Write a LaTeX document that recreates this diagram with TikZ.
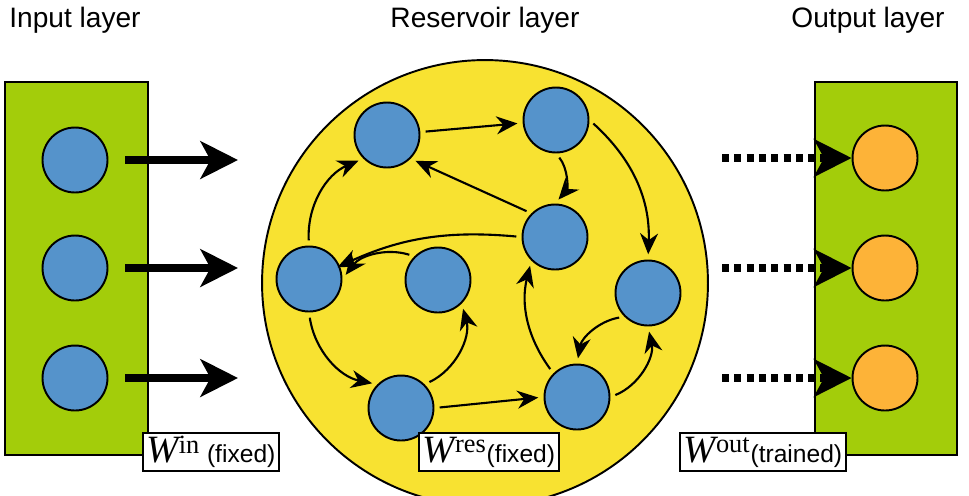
\documentclass[tikz,border=0pt]{standalone}
\usepackage{fontspec}
\setmainfont{Liberation Sans}
\newfontfamily\wfont{Liberation Serif}
\usetikzlibrary{arrows.meta}
\definecolor{layergreen}{HTML}{A3CD0A}
\definecolor{resyellow}{HTML}{F8E231}
\definecolor{neuronblue}{HTML}{5593CB}
\definecolor{neuronorange}{HTML}{FDB338}
\begin{document}
\begin{tikzpicture}[x=0.02cm,y=-0.02cm,
    neuron/.style={circle, draw, line width=1.1pt, minimum size=1.3cm, inner sep=0pt, fill=neuronblue},
    outneuron/.style={neuron, fill=neuronorange},
    layer/.style={draw, line width=1.1pt, fill=layergreen},
    link/.style={-{Stealth[length=0.42cm,width=0.36cm]}, line width=1.2pt, shorten >=3pt, shorten <=3pt},
    feed/.style={-{Stealth[length=0.75cm,width=0.75cm,inset=0.2cm]}, line width=4.5pt},
    readout/.style={feed, dash pattern=on 4pt off 3pt},
    title/.style={font=\fontsize{16}{18}\selectfont},
    wbox/.style={draw, line width=1.1pt, fill=white, inner sep=2pt, font=\fontsize{14}{16}\selectfont}
]
\useasboundingbox (0,0) rectangle (969,495);

% layers
\draw[layer] (5,82) rectangle (148,455);
\draw[layer] (815,82) rectangle (957,455);
\draw[line width=1.1pt, fill=resyellow] (485,283) circle[radius=4.46cm];

% titles
\node[title] (tin) at (75,20) {Input layer};
\node[title] (tres) at (485,20) {Reservoir layer};
\node[title] (tout) at (868,20) {Output layer};

% input neurons
\node[neuron] (i1) at (75,160) {};
\node[neuron] (i2) at (75,268) {};
\node[neuron] (i3) at (75,378) {};

% output neurons
\node[outneuron] (o1) at (885,158) {};
\node[outneuron] (o2) at (885,268) {};
\node[outneuron] (o3) at (885,378) {};

% reservoir neurons
\node[neuron] (a) at (387,135) {};
\node[neuron] (b) at (556,120) {};
\node[neuron] (c) at (555,237) {};
\node[neuron] (d) at (309,279) {};
\node[neuron] (e) at (438,280) {};
\node[neuron] (f) at (648,293) {};
\node[neuron] (g) at (401,408) {};
\node[neuron] (h) at (577,397) {};

% input and output weights
\coordinate (fi1) at (238,160);
\coordinate (fi2) at (238,268);
\coordinate (fi3) at (238,378);
\coordinate (ro1) at (722,158);
\coordinate (ro2) at (722,268);
\coordinate (ro3) at (722,378);
\draw[feed] (i1) ++(50,0) -- (fi1);
\draw[feed] (i2) ++(50,0) -- (fi2);
\draw[feed] (i3) ++(50,0) -- (fi3);
\draw[readout] (ro1) -- (o1);
\draw[readout] (ro2) -- (o2);
\draw[readout] (ro3) -- (o3);

% reservoir connections
\draw[link] (a) -- (b);
\draw[link] (b.south) to[bend left=40] (c.north);
\draw[link] (b.east) to[bend left=25] (f.north);
\draw[link] (c.north west) to (a.south east);
\draw[link] (c.west) to[bend right=15] ([yshift=-8pt]d.north east);
\draw[link] (e.north west) to[bend right=35] (d.east);
\draw[link] (d.north) to[bend left=35] (a.south west);
\draw[link] (d.south) to[bend right=35] (g.north west);
\draw[link] (g.north east) to[bend right=40] (e.south east);
\draw[link] (g.east) -- (h.west);
\draw[link] (h.north west) to[bend left=25] (c.south west);
\draw[link] (f.south west) to[bend right=35] (h.north);
\draw[link] (h.east) to[bend right=40] (f.south);

% weight labels
\node[wbox] (win) at (211,452) {{\wfont\fontsize{22}{24}\selectfont\itshape W}\textsuperscript{\wfont\fontsize{15}{16}\selectfont in} (fixed)};
\node[wbox] (wres) at (489,452) {{\wfont\fontsize{22}{24}\selectfont\itshape W}\textsuperscript{\wfont\fontsize{15}{16}\selectfont res}(fixed)};
\node[wbox] (wout) at (763,452) {{\wfont\fontsize{22}{24}\selectfont\itshape W}\textsuperscript{\wfont\fontsize{15}{16}\selectfont out}(trained)};
\end{tikzpicture}
\end{document}
